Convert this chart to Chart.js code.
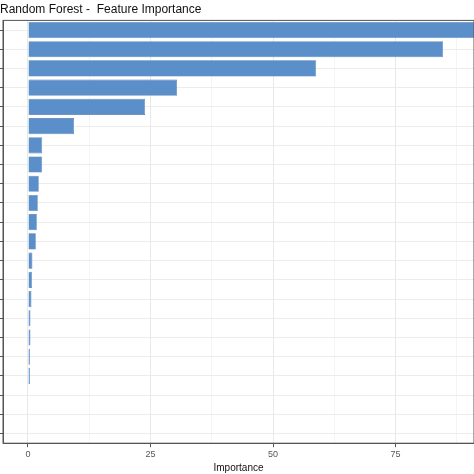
<!DOCTYPE html>
<html>
<head>
<script src="https://cdn.jsdelivr.net/npm/chart.js@4"></script>
<style>html,body{margin:0;padding:0;background:#fff}</style>
</head>
<body>
<div style="width:474px;height:474px"><canvas id="myChart"></canvas></div>
<script>
const features = ['f1','f2','f3','f4','f5','f6','f7','f8','f9','f10','f11','f12','f13','f14','f15','f16','f17','f18','f19','f20','f21','f22'];
const importance = [100, 84.7, 58.8, 30.4, 23.9, 9.4, 2.9, 2.9, 2.2, 2.0, 1.8, 1.6, 0.9, 0.8, 0.7, 0.5, 0.5, 0.4, 0.4, 0, 0, 0];
const xTicks = [0, 25, 50, 75];
const xMinor = [12.5, 37.5, 62.5, 87.5];

const config = {
    type: 'bar',
    data: {
        labels: features,
        datasets: [{
            label: 'Importance',
            data: importance,
            backgroundColor: '#5b8fca',
            borderColor: '#4a78ad',
            borderWidth: 0.6,
            categoryPercentage: 1,
            barPercentage: 0.84
        }]
    },
    options: {
        indexAxis: 'y',
        responsive: true,
        maintainAspectRatio: false,
        animation: false,
        plugins: {
            legend: { display: false },
            tooltip: { enabled: false },
            title: {
                display: true,
                text: 'Random Forest -  Feature Importance',
                align: 'start',
                color: '#111',
                font: { family: 'Liberation Sans', size: 12, weight: 'normal' },
                padding: { top: 2, bottom: 4 }
            }
        },
        scales: {
            x: {
                min: -5.1,
                max: 91,
                afterBuildTicks: axis => {
                    axis.ticks = xTicks.concat(xMinor).sort((a, b) => a - b).map(v => ({ value: v }));
                },
                ticks: {
                    autoSkip: false,
                    maxRotation: 0,
                    color: '#555',
                    font: { family: 'Liberation Sans', size: 9 },
                    padding: 2,
                    callback: v => xTicks.includes(v) ? v : ''
                },
                grid: {
                    color: ctx => xMinor.includes(ctx.tick && ctx.tick.value) ? '#f4f4f4' : '#e8e8e8',
                    tickLength: 4,
                    tickColor: ctx => xMinor.includes(ctx.tick && ctx.tick.value) ? 'rgba(0,0,0,0)' : '#555'
                },
                border: { color: '#555' },
                title: {
                    display: true,
                    text: 'Importance',
                    color: '#111',
                    font: { family: 'Liberation Sans', size: 10 },
                    padding: 0
                }
            },
            y: {
                offset: true,
                ticks: { display: false },
                grid: {
                    offset: false,
                    color: '#ececec',
                    tickLength: 3,
                    tickColor: '#555'
                },
                border: { color: '#555' }
            }
        }
    },
    plugins: [{
        id: 'panelBorder',
        afterDraw(chart) {
            const a = chart.chartArea, c = chart.ctx;
            c.save();
            c.strokeStyle = '#555';
            c.lineWidth = 1;
            c.strokeRect(a.left, a.top, a.right - a.left, a.bottom - a.top);
            c.restore();
        }
    }]
};

var myChart = new Chart(document.getElementById('myChart'), config);
</script>
</body>
</html>
